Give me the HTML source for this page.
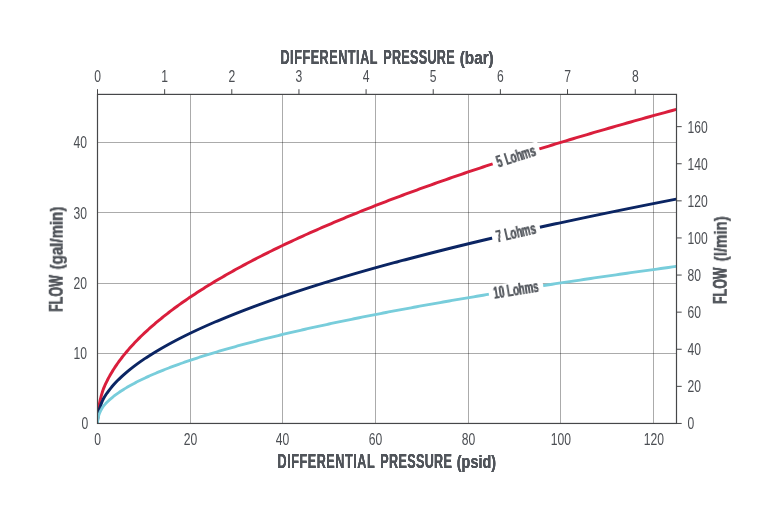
<!DOCTYPE html>
<html lang="en"><head><meta charset="utf-8"><title>Flow vs Differential Pressure</title>
<style>html,body{margin:0;padding:0;background:#fff}body{width:780px;height:520px;overflow:hidden}svg{display:block}text{font-family:"Liberation Sans",sans-serif}</style></head><body>
<svg width="780" height="520" viewBox="0 0 780 520">
<defs><filter id="bold" x="-5%" y="-30%" width="110%" height="160%" color-interpolation-filters="sRGB"><feOffset in="SourceGraphic" dx="0.45" result="a"/><feOffset in="SourceGraphic" dx="-0.45" result="c"/><feMerge><feMergeNode in="a"/><feMergeNode in="c"/><feMergeNode in="SourceGraphic"/></feMerge></filter><filter id="semi" x="-5%" y="-30%" width="110%" height="160%" color-interpolation-filters="sRGB"><feOffset in="SourceGraphic" dx="0.2" result="a"/><feOffset in="SourceGraphic" dx="-0.2" result="c"/><feMerge><feMergeNode in="a"/><feMergeNode in="c"/><feMergeNode in="SourceGraphic"/></feMerge></filter><clipPath id="plot"><rect x="97.50" y="94.40" width="579.00" height="329.05"/></clipPath></defs>
<rect width="780" height="520" fill="#fff"/>
<path d="M190.5 94.40 V423.45 M282.5 94.40 V423.45 M375.5 94.40 V423.45 M468.5 94.40 V423.45 M560.5 94.40 V423.45 M653.5 94.40 V423.45" stroke="#000" stroke-opacity=".33" stroke-width="1" fill="none"/>
<path d="M97.50 142.5 H676.50 M97.50 212.5 H676.50 M97.50 283.5 H676.50 M97.50 353.5 H676.50" stroke="#000" stroke-opacity=".33" stroke-width="1" fill="none"/>
<path d="M97.50 423.45 L97.51 422.40 L97.52 421.36 L97.55 420.31 L97.59 419.26 L97.64 418.22 L97.69 417.17 L97.77 416.12 L97.85 415.08 L97.94 414.03 L98.04 412.98 L98.15 411.94 L98.28 410.89 L98.41 409.84 L98.56 408.80 L98.72 407.75 L98.89 406.70 L99.06 405.65 L99.25 404.61 L99.46 403.56 L99.67 402.51 L99.89 401.47 L100.12 400.42 L100.37 399.37 L100.62 398.33 L100.89 397.28 L101.16 396.23 L101.45 395.19 L101.75 394.14 L102.06 393.09 L102.38 392.05 L102.71 391.00 L103.05 389.95 L103.42 388.91 L103.85 387.86 L104.29 386.81 L104.75 385.77 L105.22 384.72 L105.70 383.67 L106.20 382.63 L106.71 381.58 L107.23 380.53 L107.76 379.49 L108.31 378.44 L108.87 377.39 L109.45 376.34 L110.03 375.30 L110.63 374.25 L111.24 373.20 L111.87 372.16 L112.51 371.11 L113.16 370.06 L113.82 369.02 L114.50 367.97 L115.19 366.92 L115.89 365.88 L116.60 364.83 L117.33 363.78 L118.07 362.74 L118.83 361.69 L119.59 360.64 L120.37 359.60 L121.16 358.55 L121.97 357.50 L122.79 356.46 L123.62 355.41 L124.46 354.36 L125.32 353.32 L126.19 352.27 L127.07 351.22 L127.97 350.18 L128.88 349.13 L129.80 348.08 L130.73 347.04 L131.68 345.99 L132.64 344.94 L133.61 343.89 L134.60 342.85 L135.59 341.80 L136.61 340.75 L137.63 339.71 L138.67 338.66 L139.72 337.61 L140.78 336.57 L141.86 335.52 L142.95 334.47 L144.05 333.43 L145.16 332.38 L146.29 331.33 L147.43 330.29 L148.58 329.24 L149.75 328.19 L150.93 327.15 L152.12 326.10 L153.32 325.05 L154.54 324.01 L155.77 322.96 L157.01 321.91 L158.27 320.87 L159.54 319.82 L160.82 318.77 L162.12 317.73 L163.42 316.68 L164.75 315.63 L166.08 314.59 L167.43 313.54 L168.78 312.49 L170.16 311.44 L171.54 310.40 L172.94 309.35 L174.35 308.30 L175.77 307.26 L177.21 306.21 L178.66 305.16 L180.12 304.12 L181.60 303.07 L183.09 302.02 L184.59 300.98 L186.10 299.93 L187.63 298.88 L189.17 297.84 L190.72 296.79 L192.29 295.74 L193.86 294.70 L195.46 293.65 L197.06 292.60 L198.68 291.56 L200.31 290.51 L201.95 289.46 L203.61 288.42 L205.27 287.37 L206.95 286.32 L208.65 285.28 L210.36 284.23 L212.08 283.18 L213.81 282.13 L215.56 281.09 L217.31 280.04 L219.09 278.99 L220.87 277.95 L222.67 276.90 L224.48 275.85 L226.30 274.81 L228.14 273.76 L229.99 272.71 L231.85 271.67 L233.72 270.62 L235.61 269.57 L237.51 268.53 L239.42 267.48 L241.35 266.43 L243.29 265.39 L245.24 264.34 L247.21 263.29 L249.18 262.25 L251.17 261.20 L253.18 260.15 L255.19 259.11 L257.22 258.06 L259.27 257.01 L261.32 255.97 L263.39 254.92 L265.47 253.87 L267.56 252.83 L269.67 251.78 L271.79 250.73 L273.92 249.68 L276.07 248.64 L278.23 247.59 L280.40 246.54 L282.58 245.50 L284.78 244.45 L286.99 243.40 L289.21 242.36 L291.44 241.31 L293.69 240.26 L295.95 239.22 L298.23 238.17 L300.52 237.12 L302.82 236.08 L305.13 235.03 L307.45 233.98 L309.79 232.94 L312.14 231.89 L314.51 230.84 L316.89 229.80 L319.28 228.75 L321.68 227.70 L324.09 226.66 L326.52 225.61 L328.96 224.56 L331.42 223.52 L333.89 222.47 L336.37 221.42 L338.86 220.38 L341.37 219.33 L343.88 218.28 L346.42 217.23 L348.96 216.19 L351.52 215.14 L354.09 214.09 L356.67 213.05 L359.27 212.00 L361.88 210.95 L364.50 209.91 L367.13 208.86 L369.78 207.81 L372.44 206.77 L375.12 205.72 L377.80 204.67 L380.50 203.63 L383.21 202.58 L385.94 201.53 L388.68 200.49 L391.43 199.44 L394.19 198.39 L396.97 197.35 L399.76 196.30 L402.56 195.25 L405.38 194.21 L408.20 193.16 L411.04 192.11 L413.90 191.07 L416.77 190.02 L419.64 188.97 L422.54 187.92 L425.44 186.88 L428.36 185.83 L431.29 184.78 L434.24 183.74 L437.19 182.69 L440.16 181.64 L443.15 180.60 L446.14 179.55 L449.15 178.50 L452.17 177.46 L455.21 176.41 L458.25 175.36 L461.31 174.32 L464.39 173.27 L467.47 172.22 L470.57 171.18 L473.68 170.13 L476.81 169.08 L479.94 168.04 L483.09 166.99 L486.26 165.94 L489.43 164.90 L492.62 163.85 L495.82 162.80 L499.04 161.76 L502.27 160.71 L505.51 159.66 L508.76 158.62 L512.03 157.57 L515.31 156.52 L518.60 155.47 L521.90 154.43 L525.22 153.38 L528.55 152.33 L531.89 151.29 L535.25 150.24 L538.62 149.19 L542.00 148.15 L545.40 147.10 L548.81 146.05 L552.23 145.01 L555.66 143.96 L559.11 142.91 L562.57 141.87 L566.04 140.82 L569.52 139.77 L573.02 138.73 L576.53 137.68 L580.06 136.63 L583.59 135.59 L587.14 134.54 L590.71 133.49 L594.28 132.45 L597.87 131.40 L601.47 130.35 L605.08 129.31 L608.71 128.26 L612.35 127.21 L616.00 126.17 L619.67 125.12 L623.35 124.07 L627.04 123.02 L630.74 121.98 L634.46 120.93 L638.19 119.88 L641.93 118.84 L645.69 117.79 L649.46 116.74 L653.24 115.70 L657.03 114.65 L660.84 113.60 L664.66 112.56 L668.50 111.51 L672.34 110.46 L676.20 109.42" fill="none" stroke="#da1e3c" stroke-width="2.95" stroke-linejoin="round" clip-path="url(#plot)"/>
<path d="M97.50 423.45 L97.51 422.70 L97.52 421.95 L97.55 421.21 L97.59 420.46 L97.64 419.71 L97.69 418.96 L97.77 418.22 L97.85 417.47 L97.94 416.72 L98.04 415.97 L98.15 415.23 L98.28 414.48 L98.41 413.73 L98.56 412.98 L98.72 412.23 L98.89 411.49 L99.06 410.74 L99.25 409.99 L99.46 409.24 L99.67 408.50 L99.89 407.75 L100.12 407.00 L100.37 406.25 L100.62 405.51 L100.89 404.76 L101.16 404.01 L101.45 403.26 L101.75 402.51 L102.06 401.77 L102.38 401.02 L102.71 400.27 L103.05 399.52 L103.42 398.78 L103.85 398.03 L104.29 397.28 L104.75 396.53 L105.22 395.79 L105.70 395.04 L106.20 394.29 L106.71 393.54 L107.23 392.79 L107.76 392.05 L108.31 391.30 L108.87 390.55 L109.45 389.80 L110.03 389.06 L110.63 388.31 L111.24 387.56 L111.87 386.81 L112.51 386.07 L113.16 385.32 L113.82 384.57 L114.50 383.82 L115.19 383.07 L115.89 382.33 L116.60 381.58 L117.33 380.83 L118.07 380.08 L118.83 379.34 L119.59 378.59 L120.37 377.84 L121.16 377.09 L121.97 376.34 L122.79 375.60 L123.62 374.85 L124.46 374.10 L125.32 373.35 L126.19 372.61 L127.07 371.86 L127.97 371.11 L128.88 370.36 L129.80 369.62 L130.73 368.87 L131.68 368.12 L132.64 367.37 L133.61 366.62 L134.60 365.88 L135.59 365.13 L136.61 364.38 L137.63 363.63 L138.67 362.89 L139.72 362.14 L140.78 361.39 L141.86 360.64 L142.95 359.90 L144.05 359.15 L145.16 358.40 L146.29 357.65 L147.43 356.90 L148.58 356.16 L149.75 355.41 L150.93 354.66 L152.12 353.91 L153.32 353.17 L154.54 352.42 L155.77 351.67 L157.01 350.92 L158.27 350.18 L159.54 349.43 L160.82 348.68 L162.12 347.93 L163.42 347.18 L164.75 346.44 L166.08 345.69 L167.43 344.94 L168.78 344.19 L170.16 343.45 L171.54 342.70 L172.94 341.95 L174.35 341.20 L175.77 340.46 L177.21 339.71 L178.66 338.96 L180.12 338.21 L181.60 337.46 L183.09 336.72 L184.59 335.97 L186.10 335.22 L187.63 334.47 L189.17 333.73 L190.72 332.98 L192.29 332.23 L193.86 331.48 L195.46 330.74 L197.06 329.99 L198.68 329.24 L200.31 328.49 L201.95 327.74 L203.61 327.00 L205.27 326.25 L206.95 325.50 L208.65 324.75 L210.36 324.01 L212.08 323.26 L213.81 322.51 L215.56 321.76 L217.31 321.02 L219.09 320.27 L220.87 319.52 L222.67 318.77 L224.48 318.02 L226.30 317.28 L228.14 316.53 L229.99 315.78 L231.85 315.03 L233.72 314.29 L235.61 313.54 L237.51 312.79 L239.42 312.04 L241.35 311.30 L243.29 310.55 L245.24 309.80 L247.21 309.05 L249.18 308.30 L251.17 307.56 L253.18 306.81 L255.19 306.06 L257.22 305.31 L259.27 304.57 L261.32 303.82 L263.39 303.07 L265.47 302.32 L267.56 301.58 L269.67 300.83 L271.79 300.08 L273.92 299.33 L276.07 298.58 L278.23 297.84 L280.40 297.09 L282.58 296.34 L284.78 295.59 L286.99 294.85 L289.21 294.10 L291.44 293.35 L293.69 292.60 L295.95 291.86 L298.23 291.11 L300.52 290.36 L302.82 289.61 L305.13 288.86 L307.45 288.12 L309.79 287.37 L312.14 286.62 L314.51 285.87 L316.89 285.13 L319.28 284.38 L321.68 283.63 L324.09 282.88 L326.52 282.13 L328.96 281.39 L331.42 280.64 L333.89 279.89 L336.37 279.14 L338.86 278.40 L341.37 277.65 L343.88 276.90 L346.42 276.15 L348.96 275.41 L351.52 274.66 L354.09 273.91 L356.67 273.16 L359.27 272.41 L361.88 271.67 L364.50 270.92 L367.13 270.17 L369.78 269.42 L372.44 268.68 L375.12 267.93 L377.80 267.18 L380.50 266.43 L383.21 265.69 L385.94 264.94 L388.68 264.19 L391.43 263.44 L394.19 262.69 L396.97 261.95 L399.76 261.20 L402.56 260.45 L405.38 259.70 L408.20 258.96 L411.04 258.21 L413.90 257.46 L416.77 256.71 L419.64 255.97 L422.54 255.22 L425.44 254.47 L428.36 253.72 L431.29 252.97 L434.24 252.23 L437.19 251.48 L440.16 250.73 L443.15 249.98 L446.14 249.24 L449.15 248.49 L452.17 247.74 L455.21 246.99 L458.25 246.25 L461.31 245.50 L464.39 244.75 L467.47 244.00 L470.57 243.25 L473.68 242.51 L476.81 241.76 L479.94 241.01 L483.09 240.26 L486.26 239.52 L489.43 238.77 L492.62 238.02 L495.82 237.27 L499.04 236.53 L502.27 235.78 L505.51 235.03 L508.76 234.28 L512.03 233.53 L515.31 232.79 L518.60 232.04 L521.90 231.29 L525.22 230.54 L528.55 229.80 L531.89 229.05 L535.25 228.30 L538.62 227.55 L542.00 226.81 L545.40 226.06 L548.81 225.31 L552.23 224.56 L555.66 223.81 L559.11 223.07 L562.57 222.32 L566.04 221.57 L569.52 220.82 L573.02 220.08 L576.53 219.33 L580.06 218.58 L583.59 217.83 L587.14 217.09 L590.71 216.34 L594.28 215.59 L597.87 214.84 L601.47 214.09 L605.08 213.35 L608.71 212.60 L612.35 211.85 L616.00 211.10 L619.67 210.36 L623.35 209.61 L627.04 208.86 L630.74 208.11 L634.46 207.37 L638.19 206.62 L641.93 205.87 L645.69 205.12 L649.46 204.37 L653.24 203.63 L657.03 202.88 L660.84 202.13 L664.66 201.38 L668.50 200.64 L672.34 199.89 L676.20 199.14" fill="none" stroke="#0b2563" stroke-width="2.95" stroke-linejoin="round" clip-path="url(#plot)"/>
<path d="M97.50 423.45 L97.51 422.93 L97.52 422.40 L97.55 421.88 L97.59 421.36 L97.64 420.83 L97.69 420.31 L97.77 419.79 L97.85 419.26 L97.94 418.74 L98.04 418.22 L98.15 417.69 L98.28 417.17 L98.41 416.65 L98.56 416.12 L98.72 415.60 L98.89 415.08 L99.06 414.55 L99.25 414.03 L99.46 413.51 L99.67 412.98 L99.89 412.46 L100.12 411.94 L100.37 411.41 L100.62 410.89 L100.89 410.37 L101.16 409.84 L101.45 409.32 L101.75 408.80 L102.06 408.27 L102.38 407.75 L102.71 407.22 L103.05 406.70 L103.42 406.18 L103.85 405.65 L104.29 405.13 L104.75 404.61 L105.22 404.08 L105.70 403.56 L106.20 403.04 L106.71 402.51 L107.23 401.99 L107.76 401.47 L108.31 400.94 L108.87 400.42 L109.45 399.90 L110.03 399.37 L110.63 398.85 L111.24 398.33 L111.87 397.80 L112.51 397.28 L113.16 396.76 L113.82 396.23 L114.50 395.71 L115.19 395.19 L115.89 394.66 L116.60 394.14 L117.33 393.62 L118.07 393.09 L118.83 392.57 L119.59 392.05 L120.37 391.52 L121.16 391.00 L121.97 390.48 L122.79 389.95 L123.62 389.43 L124.46 388.91 L125.32 388.38 L126.19 387.86 L127.07 387.34 L127.97 386.81 L128.88 386.29 L129.80 385.77 L130.73 385.24 L131.68 384.72 L132.64 384.20 L133.61 383.67 L134.60 383.15 L135.59 382.63 L136.61 382.10 L137.63 381.58 L138.67 381.06 L139.72 380.53 L140.78 380.01 L141.86 379.49 L142.95 378.96 L144.05 378.44 L145.16 377.92 L146.29 377.39 L147.43 376.87 L148.58 376.34 L149.75 375.82 L150.93 375.30 L152.12 374.77 L153.32 374.25 L154.54 373.73 L155.77 373.20 L157.01 372.68 L158.27 372.16 L159.54 371.63 L160.82 371.11 L162.12 370.59 L163.42 370.06 L164.75 369.54 L166.08 369.02 L167.43 368.49 L168.78 367.97 L170.16 367.45 L171.54 366.92 L172.94 366.40 L174.35 365.88 L175.77 365.35 L177.21 364.83 L178.66 364.31 L180.12 363.78 L181.60 363.26 L183.09 362.74 L184.59 362.21 L186.10 361.69 L187.63 361.17 L189.17 360.64 L190.72 360.12 L192.29 359.60 L193.86 359.07 L195.46 358.55 L197.06 358.03 L198.68 357.50 L200.31 356.98 L201.95 356.46 L203.61 355.93 L205.27 355.41 L206.95 354.89 L208.65 354.36 L210.36 353.84 L212.08 353.32 L213.81 352.79 L215.56 352.27 L217.31 351.75 L219.09 351.22 L220.87 350.70 L222.67 350.18 L224.48 349.65 L226.30 349.13 L228.14 348.61 L229.99 348.08 L231.85 347.56 L233.72 347.04 L235.61 346.51 L237.51 345.99 L239.42 345.47 L241.35 344.94 L243.29 344.42 L245.24 343.89 L247.21 343.37 L249.18 342.85 L251.17 342.32 L253.18 341.80 L255.19 341.28 L257.22 340.75 L259.27 340.23 L261.32 339.71 L263.39 339.18 L265.47 338.66 L267.56 338.14 L269.67 337.61 L271.79 337.09 L273.92 336.57 L276.07 336.04 L278.23 335.52 L280.40 335.00 L282.58 334.47 L284.78 333.95 L286.99 333.43 L289.21 332.90 L291.44 332.38 L293.69 331.86 L295.95 331.33 L298.23 330.81 L300.52 330.29 L302.82 329.76 L305.13 329.24 L307.45 328.72 L309.79 328.19 L312.14 327.67 L314.51 327.15 L316.89 326.62 L319.28 326.10 L321.68 325.58 L324.09 325.05 L326.52 324.53 L328.96 324.01 L331.42 323.48 L333.89 322.96 L336.37 322.44 L338.86 321.91 L341.37 321.39 L343.88 320.87 L346.42 320.34 L348.96 319.82 L351.52 319.30 L354.09 318.77 L356.67 318.25 L359.27 317.73 L361.88 317.20 L364.50 316.68 L367.13 316.16 L369.78 315.63 L372.44 315.11 L375.12 314.59 L377.80 314.06 L380.50 313.54 L383.21 313.01 L385.94 312.49 L388.68 311.97 L391.43 311.44 L394.19 310.92 L396.97 310.40 L399.76 309.87 L402.56 309.35 L405.38 308.83 L408.20 308.30 L411.04 307.78 L413.90 307.26 L416.77 306.73 L419.64 306.21 L422.54 305.69 L425.44 305.16 L428.36 304.64 L431.29 304.12 L434.24 303.59 L437.19 303.07 L440.16 302.55 L443.15 302.02 L446.14 301.50 L449.15 300.98 L452.17 300.45 L455.21 299.93 L458.25 299.41 L461.31 298.88 L464.39 298.36 L467.47 297.84 L470.57 297.31 L473.68 296.79 L476.81 296.27 L479.94 295.74 L483.09 295.22 L486.26 294.70 L489.43 294.17 L492.62 293.65 L495.82 293.13 L499.04 292.60 L502.27 292.08 L505.51 291.56 L508.76 291.03 L512.03 290.51 L515.31 289.99 L518.60 289.46 L521.90 288.94 L525.22 288.42 L528.55 287.89 L531.89 287.37 L535.25 286.85 L538.62 286.32 L542.00 285.80 L545.40 285.28 L548.81 284.75 L552.23 284.23 L555.66 283.71 L559.11 283.18 L562.57 282.66 L566.04 282.13 L569.52 281.61 L573.02 281.09 L576.53 280.56 L580.06 280.04 L583.59 279.52 L587.14 278.99 L590.71 278.47 L594.28 277.95 L597.87 277.42 L601.47 276.90 L605.08 276.38 L608.71 275.85 L612.35 275.33 L616.00 274.81 L619.67 274.28 L623.35 273.76 L627.04 273.24 L630.74 272.71 L634.46 272.19 L638.19 271.67 L641.93 271.14 L645.69 270.62 L649.46 270.10 L653.24 269.57 L657.03 269.05 L660.84 268.53 L664.66 268.00 L668.50 267.48 L672.34 266.96 L676.20 266.43" fill="none" stroke="#78cddb" stroke-width="2.85" stroke-linejoin="round" clip-path="url(#plot)"/>
<g transform="translate(516.02 156.39) rotate(-17.70)"><rect x="-24.50" y="-8.00" width="49.00" height="16.00" fill="#fff"/><text transform="translate(0 5.45) scale(0.612 1)" font-size="15.8" font-weight="700" text-anchor="middle" filter="url(#bold)" fill="#565a60">5<tspan dx="0.6"> Lohms</tspan></text></g>
<g transform="translate(516.02 232.69) rotate(-12.84)"><rect x="-24.50" y="-8.00" width="49.00" height="16.00" fill="#fff"/><text transform="translate(0 5.45) scale(0.612 1)" font-size="15.8" font-weight="700" text-anchor="middle" filter="url(#bold)" fill="#565a60">7<tspan dx="0.6"> Lohms</tspan></text></g>
<g transform="translate(516.02 289.92) rotate(-9.06)"><rect x="-27.50" y="-8.00" width="55.00" height="16.00" fill="#fff"/><text transform="translate(0 5.45) scale(0.612 1)" font-size="15.8" font-weight="700" text-anchor="middle" filter="url(#bold)" fill="#565a60">10<tspan dx="0.6"> Lohms</tspan></text></g>
<rect x="97.50" y="94.40" width="579.00" height="329.05" stroke="#464749" stroke-width="1.2" fill="none"/>
<path d="M97.50 94.40 V89.20 M164.65 94.40 V89.20 M231.79 94.40 V89.20 M298.94 94.40 V89.20 M366.09 94.40 V89.20 M433.23 94.40 V89.20 M500.38 94.40 V89.20 M567.53 94.40 V89.20 M635.27 94.40 V89.20 M676.50 423.45 H681.70 M676.50 386.35 H681.70 M676.50 349.25 H681.70 M676.50 312.15 H681.70 M676.50 275.05 H681.70 M676.50 237.95 H681.70 M676.50 200.85 H681.70 M676.50 163.75 H681.70 M676.50 126.65 H681.70" stroke="#464749" stroke-width="1" fill="none"/>
<text transform="translate(97.50 82.00) scale(0.74 1)" font-size="16.4" font-weight="400" fill="#4b4e53" text-anchor="middle">0</text>
<text transform="translate(164.65 82.00) scale(0.74 1)" font-size="16.4" font-weight="400" fill="#4b4e53" text-anchor="middle">1</text>
<text transform="translate(231.79 82.00) scale(0.74 1)" font-size="16.4" font-weight="400" fill="#4b4e53" text-anchor="middle">2</text>
<text transform="translate(298.94 82.00) scale(0.74 1)" font-size="16.4" font-weight="400" fill="#4b4e53" text-anchor="middle">3</text>
<text transform="translate(366.09 82.00) scale(0.74 1)" font-size="16.4" font-weight="400" fill="#4b4e53" text-anchor="middle">4</text>
<text transform="translate(433.23 82.00) scale(0.74 1)" font-size="16.4" font-weight="400" fill="#4b4e53" text-anchor="middle">5</text>
<text transform="translate(500.38 82.00) scale(0.74 1)" font-size="16.4" font-weight="400" fill="#4b4e53" text-anchor="middle">6</text>
<text transform="translate(567.53 82.00) scale(0.74 1)" font-size="16.4" font-weight="400" fill="#4b4e53" text-anchor="middle">7</text>
<text transform="translate(635.27 82.00) scale(0.74 1)" font-size="16.4" font-weight="400" fill="#4b4e53" text-anchor="middle">8</text>
<text transform="translate(97.50 445.00) scale(0.74 1)" font-size="16.4" font-weight="400" fill="#4b4e53" text-anchor="middle">0</text>
<text transform="translate(190.50 445.00) scale(0.74 1)" font-size="16.4" font-weight="400" fill="#4b4e53" text-anchor="middle">20</text>
<text transform="translate(282.50 445.00) scale(0.74 1)" font-size="16.4" font-weight="400" fill="#4b4e53" text-anchor="middle">40</text>
<text transform="translate(375.50 445.00) scale(0.74 1)" font-size="16.4" font-weight="400" fill="#4b4e53" text-anchor="middle">60</text>
<text transform="translate(468.50 445.00) scale(0.74 1)" font-size="16.4" font-weight="400" fill="#4b4e53" text-anchor="middle">80</text>
<text transform="translate(560.80 445.00) scale(0.74 1)" font-size="16.4" font-weight="400" fill="#4b4e53" text-anchor="middle">100</text>
<text transform="translate(653.80 445.00) scale(0.74 1)" font-size="16.4" font-weight="400" fill="#4b4e53" text-anchor="middle">120</text>
<text transform="translate(87.00 359.13) scale(0.74 1)" font-size="16.4" font-weight="400" fill="#4b4e53" text-anchor="end">10</text>
<text transform="translate(87.00 288.91) scale(0.74 1)" font-size="16.4" font-weight="400" fill="#4b4e53" text-anchor="end">20</text>
<text transform="translate(87.00 218.69) scale(0.74 1)" font-size="16.4" font-weight="400" fill="#4b4e53" text-anchor="end">30</text>
<text transform="translate(87.00 148.47) scale(0.74 1)" font-size="16.4" font-weight="400" fill="#4b4e53" text-anchor="end">40</text>
<text transform="translate(88.30 429.35) scale(0.74 1)" font-size="16.4" font-weight="400" fill="#4b4e53" text-anchor="end">0</text>
<text transform="translate(687.50 429.35) scale(0.74 1)" font-size="16.4" font-weight="400" fill="#4b4e53">0</text>
<text transform="translate(687.50 392.25) scale(0.74 1)" font-size="16.4" font-weight="400" fill="#4b4e53">20</text>
<text transform="translate(687.50 355.15) scale(0.74 1)" font-size="16.4" font-weight="400" fill="#4b4e53">40</text>
<text transform="translate(687.50 318.05) scale(0.74 1)" font-size="16.4" font-weight="400" fill="#4b4e53">60</text>
<text transform="translate(687.50 280.95) scale(0.74 1)" font-size="16.4" font-weight="400" fill="#4b4e53">80</text>
<text transform="translate(687.50 243.85) scale(0.74 1)" font-size="16.4" font-weight="400" fill="#4b4e53">100</text>
<text transform="translate(687.50 206.75) scale(0.74 1)" font-size="16.4" font-weight="400" fill="#4b4e53">120</text>
<text transform="translate(687.50 169.65) scale(0.74 1)" font-size="16.4" font-weight="400" fill="#4b4e53">140</text>
<text transform="translate(687.50 132.55) scale(0.74 1)" font-size="16.4" font-weight="400" fill="#4b4e53">160</text>
<text transform="translate(280.47 63.60) scale(0.65 1)" font-size="19.4" font-weight="700" fill="#50545a" filter="url(#bold)" letter-spacing="0.835">DIFFERENTIAL</text>
<text transform="translate(383.17 63.60) scale(0.65 1)" font-size="19.4" font-weight="700" fill="#50545a" filter="url(#bold)" letter-spacing="0.466">PRESSURE</text>
<text transform="translate(459.69 63.60) scale(0.8021 1)" font-size="19.1" font-weight="700" fill="#50545a" filter="url(#semi)">(bar)</text>
<text transform="translate(277.57 468.00) scale(0.65 1)" font-size="19.4" font-weight="700" fill="#50545a" filter="url(#bold)" letter-spacing="0.835">DIFFERENTIAL</text>
<text transform="translate(380.27 468.00) scale(0.65 1)" font-size="19.4" font-weight="700" fill="#50545a" filter="url(#bold)" letter-spacing="0.51">PRESSURE</text>
<text transform="translate(456.83 468.00) scale(0.7533 1)" font-size="19.1" font-weight="700" fill="#50545a" filter="url(#semi)">(psid)</text>
<text transform="translate(62.75 311.82) rotate(-90) scale(0.644 1)" font-size="19.4" font-weight="700" fill="#50545a" filter="url(#bold)">FLOW</text>
<text transform="translate(62.75 269.39) rotate(-90) scale(0.788 1)" font-size="19.1" font-weight="700" fill="#50545a" filter="url(#semi)">(gal/min)</text>
<text transform="translate(726.80 303.92) rotate(-90) scale(0.6405 1)" font-size="19.4" font-weight="700" fill="#50545a" filter="url(#bold)">FLOW</text>
<text transform="translate(726.80 261.29) rotate(-90) scale(0.7869 1)" font-size="19.1" font-weight="700" fill="#50545a" filter="url(#semi)">(l/min)</text>
</svg></body></html>
